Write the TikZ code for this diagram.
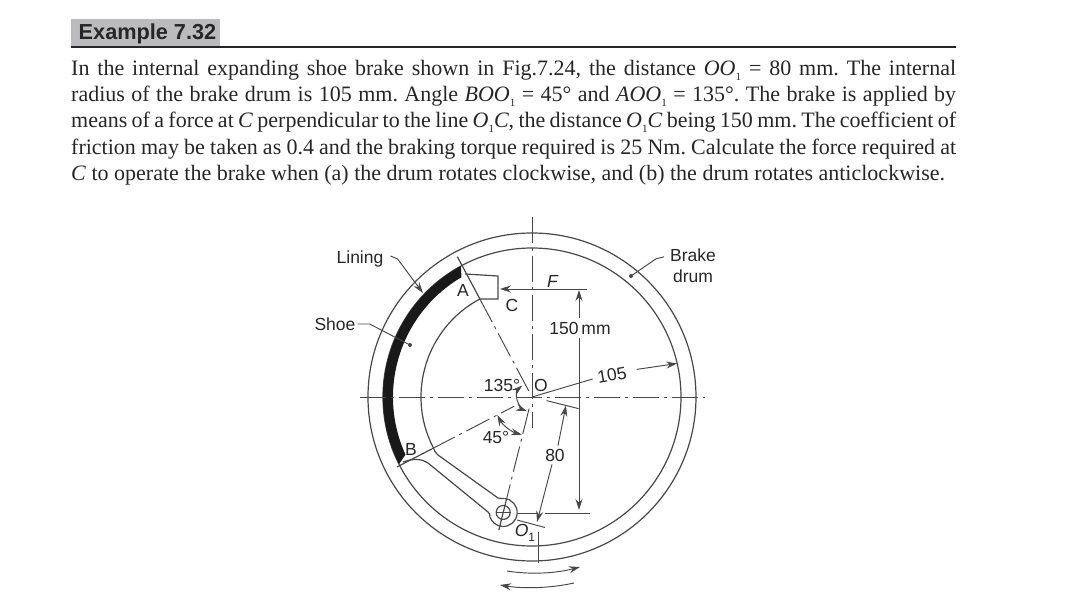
\documentclass[tikz,border=0pt]{standalone}
\usepackage{fontspec}
\setmainfont{Liberation Serif}
\newfontfamily\labelfont{Liberation Sans}
\usetikzlibrary{arrows.meta, calc}
\definecolor{inkline}{HTML}{484848}
\definecolor{inktext}{HTML}{262626}
\definecolor{headbox}{HTML}{BBBBBD}
\newcommand{\lowone}{\raisebox{-0.45ex}{\fontsize{11}{11}\selectfont 1}}
\tikzset{
    part/.style={draw=inkline, line width=1.2pt},
    centreline/.style={draw=inkline, line width=0.95pt, dash pattern=on 26pt off 5pt on 3pt off 5pt},
    dimline/.style={draw=inkline, line width=0.95pt, >={Stealth[length=11pt,width=7pt]}},
    tag/.style={font=\labelfont\fontsize{17.5}{21}\selectfont, text=inktext, inner sep=0pt},
}
\begin{document}
\begin{tikzpicture}[x=1pt,y=1pt]
    \useasboundingbox (-532,-211) rectangle (540,397);
    \coordinate (O) at (0,0);
    \coordinate (O1) at (256:119);

    % heading
    \fill[headbox] (-461,351) rectangle (-312,378);
    \draw[inktext, line width=2.2pt] (-461,350) -- (424,350);
    \node[font=\labelfont\bfseries\fontsize{21.7}{26}\selectfont, text=inktext, inner sep=0pt] (title) at (-384.5,363.5) {Example 7.32};
    \node[anchor=north west, inner sep=0pt, text width=885pt, align=justify, text=inktext,
          font=\frenchspacing\fontsize{22}{26.2}\selectfont] (problem) at (-461,337) {In the internal expanding shoe brake shown in Fig.7.24, the distance \textit{OO}\lowone\ = 80 mm. The internal\linebreak
    radius of the brake drum is 105 mm. Angle \textit{BOO}\lowone\ = 45° and \textit{AOO}\lowone\ = 135°. The brake is applied by\linebreak
    means of a force at \textit{C} perpendicular to the line \textit{O}\lowone\textit{C}, the distance \textit{O}\lowone\textit{C} being 150 mm. The coefficient of\linebreak
    friction may be taken as 0.4 and the braking torque required is 25 Nm. Calculate the force required at\linebreak
    \textit{C} to operate the brake when (a) the drum rotates clockwise, and (b) the drum rotates anticlockwise.};

    % drum:
    \draw[part] (O) circle (164);
    \draw[part] (O) circle (149);

    % lining:
    \fill[black!90] (118.5:149) arc[start angle=118.5, end angle=206.8, radius=149] -- (204.5:139) arc[start angle=204.5, end angle=120.5, radius=139] -- cycle;

    % shoe:
    \draw[part] (118:111) arc[start angle=118, end angle=207.4, radius=111] .. controls (-98,-54) and (-96,-56) .. (-94,-58) -- (-34,-101) .. controls (-32,-102) and (-30,-101) .. ($(O1)+(85:14)$);
    \draw[part] (-129,-65) .. controls (-118,-61) and (-110,-62) .. (-104,-66) -- (-44,-115) .. controls (-42,-116) and (-42,-118) .. ($(O1)+(197:14)$);
    \draw[part] ($(O1)+(85:14)$) arc[start angle=85, end angle=-163, radius=14];
    \draw[part] (O1) circle (7);
    \draw[part] ($(O1)+(-7,0)$) -- ($(O1)+(7,0)$);

    % block at C:
    \draw[part] (-67,123) -- (-34,121) -- (-34,98) -- (-53,98);

    % centre lines:
    \draw[centreline] (-172,0) -- (173,0);
    \draw[centreline] (0,180) -- (0,-31);
    \draw[dimline] (6,-135) -- (6,-166);

    % radial lines:
    \draw[part] (118:159) -- (118:111);
    \draw[centreline] (118:111) -- (118:6);
    \draw[part] (207.4:152) -- (207.4:113);
    \draw[centreline] (207.4:113) -- (207.4:20);
    \draw[centreline] (256:12) -- (256:106);
    \draw[part] (256:106) -- (256:137);

    % force:
    \coordinate (Ftip) at (-32,108);
    \coordinate (Fend) at (55,108);
    \draw[dimline,->] (Fend) -- (Ftip);

    % 150 mm:
    \node[tag] (dimc) at (48,69) {150\,mm};
    \draw[dimline,->] (47,79) -- (47,107);
    \draw[dimline,->] (47,59) -- (47,-113);
    \draw[dimline] (-15,-116) -- (5,-116);
    \draw[dimline] (13,-116) -- (58,-116);

    % 105:
    \node[tag, rotate=10] (dimr) at (80,22) {105};
    \draw[dimline, shorten >=5pt] (O) -- (dimr.west);
    \draw[dimline,->] (dimr.east) ++(10,3) -- (13:149);

    % 80:
    \draw[dimline] (-14:15) -- (-14:48);
    \draw[dimline] (-15,-123) -- (13,-130.5);
    \node[tag] (dimo) at (23,-58) {80};
    \draw[dimline,->] (dimo.north) ++(3,3) -- (-14:35);
    \draw[dimline,->] (dimo.south) ++(-3,-3) -- (5,-125);

    % angles:
    \draw[dimline,<->] (130:15) arc[start angle=130, end angle=250, radius=15];
    \draw[dimline,<->] (207.4:39) arc[start angle=207.4, end angle=255, radius=39];

    % rotation:
    \draw[dimline,->] (-25,-174) .. controls (0,-178) and (25,-176) .. (48,-170);
    \draw[dimline,->] (42,-186) .. controls (20,-191) and (-8,-192) .. (-32,-188);

    % labels:
    \node[tag] (anglea) at (-30,12) {135°};
    \node[tag] (angleb) at (-36,-40) {45°};
    \node[tag] (centre) at (9,12) {O};
    \node[tag] (pointb) at (-121,-52) {B};
    \node[tag] (pointa) at (-69,107) {A};
    \node[tag] (pointc) at (-20,92) {C};
    \node[tag] (force) at (21,116) {\textit{F}};
    \node[tag] (pivot) at (-7,-136) {\textit{O}\raisebox{-0.5ex}{\fontsize{12}{12}\selectfont 1}};

    % leaders:
    \node[tag] (lining) at (-172,138) {Lining};
    \node[tag] (shoe) at (-197,73) {Shoe};
    \node[tag, align=center] (drum) at (161,131) {Brake\\drum};
    \coordinate (liningtip) at (-109,104);
    \coordinate (shoedot) at (-122,52);
    \coordinate (drumdot) at (99,121);
    \draw[dimline,->] (lining.east) ++(7,3) -- ++(7,-3) -- (liningtip);
    \draw[dimline] (shoe.east) ++(2,0) -- ++(12,0) -- (shoedot);
    \fill[inkline] (shoedot) circle (2);
    \draw[dimline] (drum.north west) ++(-6,-8) -- ++(-8,-2) -- (drumdot);
    \fill[inkline] (drumdot) circle (2);
\end{tikzpicture}
\end{document}
